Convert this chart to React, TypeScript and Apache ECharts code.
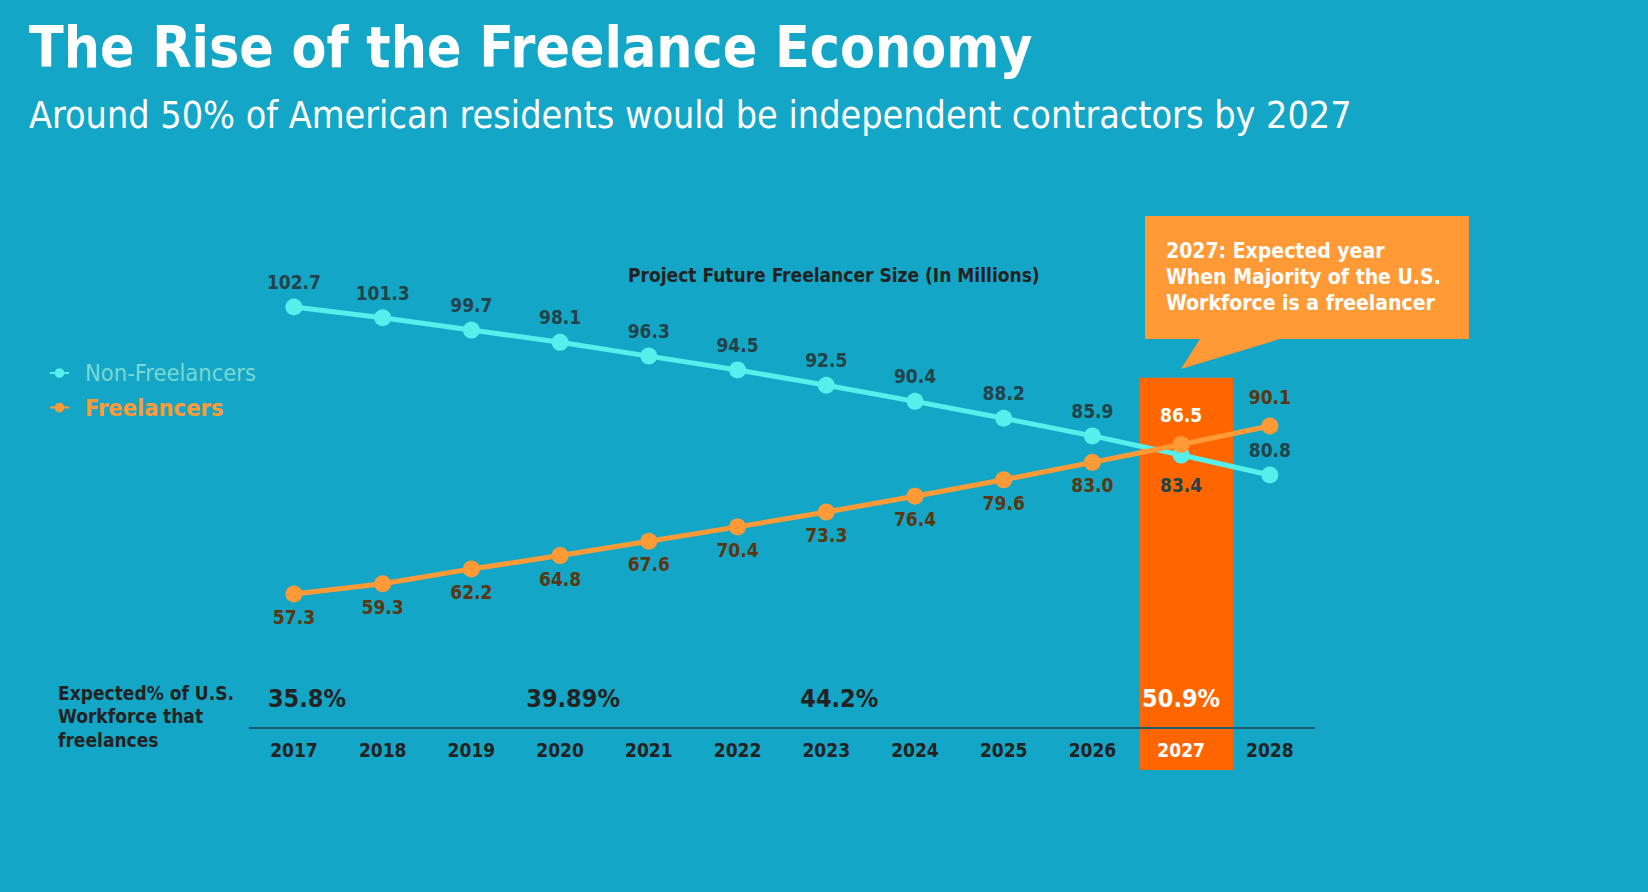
import React, { useEffect, useRef } from "react";
import * as echarts from "echarts";

// Years on the category axis
const YEARS = ["2017", "2018", "2019", "2020", "2021", "2022", "2023", "2024", "2025", "2026", "2027", "2028"];
// Workforce size in millions
const NON_FREELANCERS = [102.7, 101.3, 99.7, 98.1, 96.3, 94.5, 92.5, 90.4, 88.2, 85.9, 83.4, 80.8];
const FREELANCERS = [57.3, 59.3, 62.2, 64.8, 67.6, 70.4, 73.3, 76.4, 79.6, 83.0, 86.5, 90.1];
// Expected share of the U.S. workforce that freelances
const PCT_YEARS = ["2017", "2020", "2023", "2027"];
const PCT_VALUES = [35.8, 39.89, 44.2, 50.9];
// Year in which freelancers become the majority
const HIGHLIGHT_YEAR = "2027";

const FONT = "'DejaVu Sans Condensed', 'DejaVu Sans', Tahoma, sans-serif";
const BG = "#14a6c6";
const CYAN = "#55efec";
const ORANGE = "#ff9a36";
const BAND = "#ff6600";
const DARK = "#222222";
const CYAN_LABEL = "#23434b";
const ORANGE_LABEL = "#5a3611";

export default function App() {
  const ref = useRef<HTMLDivElement>(null);

  useEffect(() => {
    if (!ref.current) return;
    const chart = echarts.init(ref.current, undefined, { renderer: "svg" });

    const nonData = NON_FREELANCERS.map((v, i) => {
      const below = YEARS[i] === HIGHLIGHT_YEAR;
      return {
        value: v,
        label: below ? { position: "bottom", distance: 12 } : undefined,
      };
    });

    const freeData = FREELANCERS.map((v, i) => {
      const above = v > NON_FREELANCERS[i];
      const hl = YEARS[i] === HIGHLIGHT_YEAR;
      return {
        value: v,
        label: above
          ? { position: "top", distance: 11, color: hl ? "#ffffff" : ORANGE_LABEL }
          : undefined,
      };
    });

    const pctData = PCT_YEARS.map((y, i) => ({
      value: [y, 0, PCT_VALUES[i]],
      label: {
        offset: y === HIGHLIGHT_YEAR ? [0, -30] : [13, -30],
        color: y === HIGHLIGHT_YEAR ? "#ffffff" : DARK,
      },
    }));

    const bandData = YEARS.map((y) => (y === HIGHLIGHT_YEAR ? 1 : "-"));

    const option: any = {
      animation: false,
      backgroundColor: BG,
      textStyle: { fontFamily: FONT },
      legend: {
        orient: "vertical",
        left: 44,
        top: 356,
        itemWidth: 19,
        itemHeight: 12,
        itemGap: 10.5,
        selectedMode: false,
        textStyle: { fontSize: 23.5, fontFamily: FONT, padding: [0, 0, 0, 11] },
        data: [
          { name: "Non-Freelancers", textStyle: { color: "#7ad8d2", fontWeight: "normal" } },
          { name: "Freelancers", textStyle: { color: ORANGE, fontWeight: "bold" } },
        ],
      },
      grid: [
        { left: 249.6, top: 200, width: 1064.6, height: 528 },
        { left: 254.9, top: 377.7, width: 1064.6, height: 392.3 },
      ],
      xAxis: [
        {
          type: "category",
          gridIndex: 0,
          data: YEARS,
          z: 10,
          axisTick: { show: false },
          axisLine: { lineStyle: { color: "#1b5d70", width: 2 } },
          axisLabel: {
            margin: 12,
            fontSize: 19,
            fontWeight: "bold",
            fontFamily: FONT,
            color: (v: string) => (v === HIGHLIGHT_YEAR ? "#ffffff" : DARK),
          },
        },
        { type: "category", gridIndex: 1, data: YEARS, show: false },
      ],
      yAxis: [
        { type: "value", gridIndex: 0, min: 47.82, max: 116.65, show: false, splitLine: { show: false } },
        { type: "value", gridIndex: 0, min: 31.14, max: 134.22, show: false, splitLine: { show: false } },
        { type: "value", gridIndex: 0, min: 0, max: 1, show: false, splitLine: { show: false } },
        { type: "value", gridIndex: 1, min: 0, max: 1, show: false, splitLine: { show: false } },
      ],
      series: [
        {
          name: "Highlight",
          type: "bar",
          xAxisIndex: 1,
          yAxisIndex: 3,
          data: bandData,
          barWidth: 94,
          z: 1,
          itemStyle: { color: BAND },
          silent: true,
        },
        {
          name: "Non-Freelancers",
          type: "line",
          xAxisIndex: 0,
          yAxisIndex: 0,
          data: nonData,
          z: 3,
          symbol: "circle",
          symbolSize: 17,
          lineStyle: { color: CYAN, width: 5 },
          itemStyle: { color: CYAN },
          label: {
            show: true,
            position: "top",
            distance: 7,
            fontSize: 19,
            fontWeight: "bold",
            fontFamily: FONT,
            color: CYAN_LABEL,
            formatter: (p: any) => Number(p.value).toFixed(1),
          },
        },
        {
          name: "Freelancers",
          type: "line",
          xAxisIndex: 0,
          yAxisIndex: 1,
          data: freeData,
          z: 4,
          symbol: "circle",
          symbolSize: 17,
          lineStyle: { color: ORANGE, width: 5 },
          itemStyle: { color: ORANGE },
          label: {
            show: true,
            position: "bottom",
            distance: 5,
            fontSize: 19,
            fontWeight: "bold",
            fontFamily: FONT,
            color: ORANGE_LABEL,
            formatter: (p: any) => Number(p.value).toFixed(1),
          },
        },
        {
          name: "Share",
          type: "scatter",
          xAxisIndex: 0,
          yAxisIndex: 2,
          data: pctData,
          z: 6,
          symbolSize: 1,
          itemStyle: { color: "rgba(0,0,0,0)", opacity: 1 },
          silent: true,
          label: {
            show: true,
            position: "inside",
            fontSize: 25,
            fontWeight: "bold",
            fontFamily: FONT,
            formatter: (p: any) => `${p.value[2]}%`,
          },
        },
      ],
      graphic: [
        {
          type: "text",
          left: 29,
          top: 18,
          style: {
            text: "The Rise of the Freelance Economy",
            fontSize: 56.6,
            fontWeight: "bold",
            fontFamily: FONT,
            fill: "#ffffff",
          },
        },
        {
          type: "text",
          left: 29,
          top: 96,
          style: {
            text: "Around 50% of American residents would be independent contractors by 2027",
            fontSize: 37.4,
            fontFamily: FONT,
            fill: "#ffffff",
          },
        },
        {
          type: "text",
          left: 628,
          top: 265,
          style: {
            text: "Project Future Freelancer Size (In Millions)",
            fontSize: 19,
            fontWeight: "bold",
            fontFamily: FONT,
            fill: DARK,
          },
        },
        {
          type: "text",
          left: 58,
          top: 681,
          style: {
            text: "Expected% of U.S.\nWorkforce that\nfreelances",
            fontSize: 19,
            lineHeight: 23.5,
            fontWeight: "bold",
            fontFamily: FONT,
            fill: DARK,
          },
        },
        {
          type: "polygon",
          shape: {
            points: [
              [1145, 216],
              [1469, 216],
              [1469, 339],
              [1280, 339],
              [1181, 369],
              [1200, 339],
              [1145, 339],
            ],
          },
          style: { fill: ORANGE },
        },
        {
          type: "text",
          left: 1166,
          top: 238,
          style: {
            text: "2027: Expected year\nWhen Majority of the U.S.\nWorkforce is a freelancer",
            fontSize: 21,
            lineHeight: 26,
            fontWeight: "bold",
            fontFamily: FONT,
            fill: "#ffffff",
          },
        },
      ],
    };

    chart.setOption(option);
    return () => chart.dispose();
  }, []);

  return (
    <div
      ref={ref}
      style={{ position: "absolute", left: 0, top: 0, width: 1648, height: 892 }}
    />
  );
}
